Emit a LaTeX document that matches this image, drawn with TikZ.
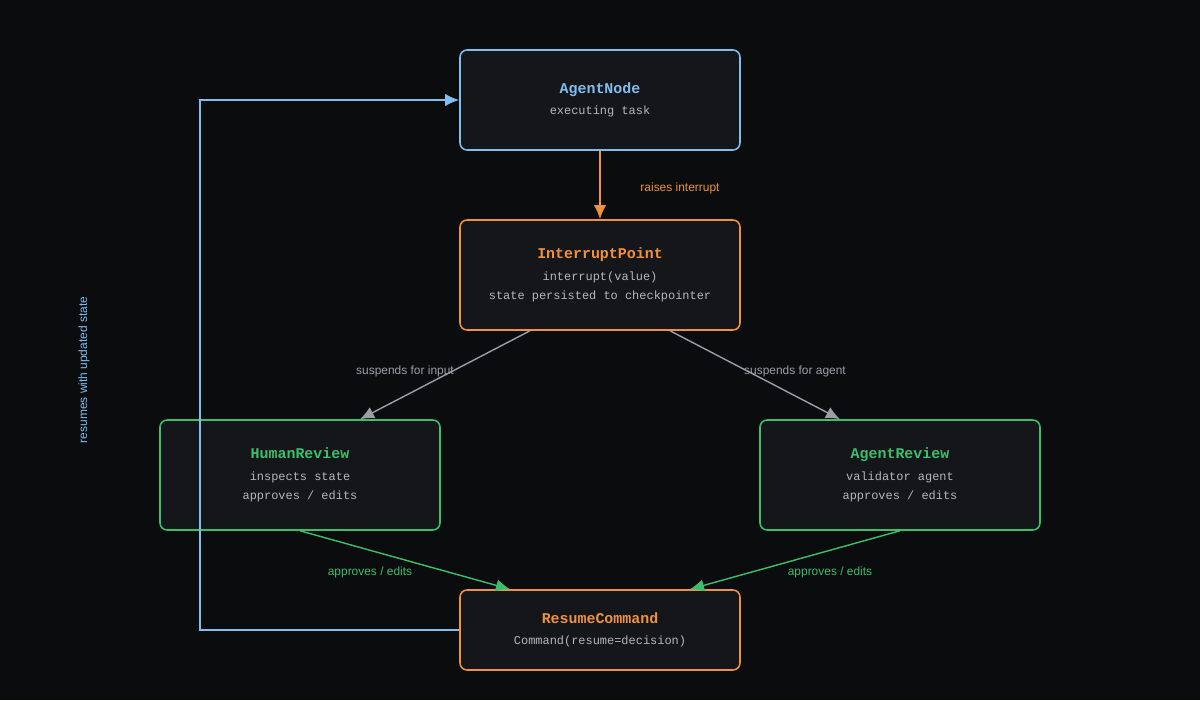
\documentclass[tikz,border=0pt]{standalone}
\usepackage{fontspec}
\setmainfont{Liberation Sans}
\newfontfamily\boxmono{Liberation Mono}
\usetikzlibrary{positioning}
\usetikzlibrary{arrows.meta}
\definecolor{bgdark}{HTML}{0B0C0E}
\definecolor{boxfill}{HTML}{14161A}
\definecolor{cblue}{HTML}{82BDF0}
\definecolor{corange}{HTML}{F0913F}
\definecolor{cgreen}{HTML}{3CBE6E}
\definecolor{cgray}{HTML}{9A9EA5}
\definecolor{ctext}{HTML}{B4B8BE}

\tikzset{
    stage/.style={draw=#1,fill=boxfill,rounded corners=4pt,line width=0.9pt,
        minimum width=5.6cm,align=center,font=\boxmono\fontsize{6.8}{11}\selectfont,text=ctext},
    ttl/.style={font=\boxmono\bfseries\fontsize{8.5}{12}\selectfont,text=#1},
    flow/.style={draw=#1,line width=0.8pt,-{Latex[length=8pt,width=7pt]}},
    lbl/.style={font=\fontsize{6.8}{8}\selectfont,text=#1}
}

\begin{document}
\begin{tikzpicture}[x=0.02cm,y=-0.02cm]
        \fill[bgdark] (0,0) rectangle (1200,700);

        \node[stage=cblue,minimum height=2cm] (agent) at (600,100)
            {{\color{cblue}\textbf{\fontsize{8.5}{12}\selectfont AgentNode}}\\[1pt]executing task};
        \node[stage=corange,minimum height=2.2cm] (ip) at (600,275)
            {{\color{corange}\textbf{\fontsize{8.5}{12}\selectfont InterruptPoint}}\\[1pt]interrupt(value)\\state persisted to checkpointer};
        \node[stage=cgreen,minimum height=2.2cm] (human) at (300,475)
            {{\color{cgreen}\textbf{\fontsize{8.5}{12}\selectfont HumanReview}}\\[1pt]inspects state\\approves / edits};
        \node[stage=cgreen,minimum height=2.2cm] (areview) at (900,475)
            {{\color{cgreen}\textbf{\fontsize{8.5}{12}\selectfont AgentReview}}\\[1pt]validator agent\\approves / edits};
        \node[stage=corange,minimum height=1.6cm] (resume) at (600,630)
            {{\color{corange}\textbf{\fontsize{8.5}{12}\selectfont ResumeCommand}}\\[1pt]Command(resume=decision)};

        \coordinate (ipL) at ([xshift=-1.4cm]ip.south);
        \coordinate (ipR) at ([xshift=1.4cm]ip.south);
        \coordinate (huT) at ([xshift=1.2cm]human.north);
        \coordinate (arT) at ([xshift=-1.2cm]areview.north);
        \coordinate (rsL) at ([xshift=-1.8cm]resume.north);
        \coordinate (rsR) at ([xshift=1.8cm]resume.north);
        \coordinate (corner1) at (200,630);
        \coordinate (corner2) at (200,100);

        \draw[flow=corange] (agent) -- (ip);
        \draw[flow=cgray] (ipL) -- (huT);
        \draw[flow=cgray] (ipR) -- (arT);
        \draw[flow=cgreen] (human.south) -- (rsL);
        \draw[flow=cgreen] (areview.south) -- (rsR);
        \draw[flow=cblue] (resume.west) -- (corner1) -- (corner2) -- (agent.west);

        \node[lbl=corange] at (680,188) {raises interrupt};
        \node[lbl=cgray] at (405,371) {suspends for input};
        \node[lbl=cgray] at (795,371) {suspends for agent};
        \node[lbl=cgreen] at (370,572) {approves / edits};
        \node[lbl=cgreen] at (830,572) {approves / edits};
        \node[lbl=cblue,rotate=90] at (84,370) {resumes with updated state};
\end{tikzpicture}
\end{document}
